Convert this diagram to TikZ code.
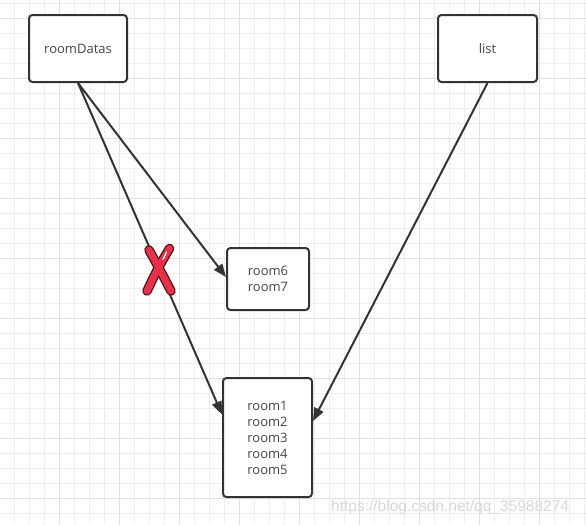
\documentclass[tikz,border=0pt]{standalone}
\usepackage{fontspec}
\setmainfont{Open Sans}
\newfontfamily\wmfont{Liberation Sans}
\usetikzlibrary{arrows.meta}
\definecolor{minorg}{HTML}{EEEEEE}
\definecolor{majorg}{HTML}{E0E0E0}
\definecolor{boxc}{HTML}{333333}
\definecolor{txtc}{HTML}{444444}
\definecolor{xred}{HTML}{E8304A}
\definecolor{xdark}{HTML}{4A0A12}
\definecolor{wm}{HTML}{D8D8D8}
\begin{document}
\begin{tikzpicture}[x=1pt,y=-1pt,
  box/.style={draw=boxc,line width=2pt,rounded corners=3.5pt,fill=white,align=center,
    font=\fontsize{13}{16}\selectfont,text=txtc,inner sep=0pt},
  conn/.style={draw=boxc,line width=2pt,-{Triangle[length=13pt,width=10pt]}},
  minorline/.style={draw=minorg,line width=1pt},
  majorline/.style={draw=majorg,line width=1pt},
  xout/.style={draw=xdark,line width=9.5pt,line cap=round},
  xin/.style={draw=xred,line width=7pt,line cap=round}
]
\useasboundingbox (0,0) rectangle (586,525);
\fill[white] (0,0) rectangle (586,525);
% grid
\foreach \k in {0,...,40} {
  \draw[minorline] ({15*\k-0.7},0) -- ({15*\k-0.7},525);
}
\foreach \k in {0,...,35} {
  \draw[minorline] (0,{15*\k+3.3}) -- (586,{15*\k+3.3});
}
\foreach \k in {0,...,10} {
  \draw[majorline] ({60*\k-0.7},0) -- ({60*\k-0.7},525);
}
\foreach \k in {0,...,9} {
  \draw[majorline] (0,{60*\k+18.3}) -- (586,{60*\k+18.3});
}
% nodes
\node[box,minimum width=98pt,minimum height=67pt] (rd) at (78,48.5) {roomDatas};
\node[box,minimum width=99pt,minimum height=67pt] (ls) at (487.5,48.5) {list};
\node[box,minimum width=82pt,minimum height=62pt] (r67) at (268,279) {room6\\room7};
\node[box,minimum width=89pt,minimum height=119pt] (r15) at (267.5,437.5) {room1\\room2\\room3\\room4\\room5};
% connectors
\draw[conn] (rd.south) -- ([yshift=2pt]r67.west);
\draw[conn] (rd.south) -- ([yshift=23pt]r15.west);
\draw[conn] (ls.south) -- ([yshift=16.5pt]r15.east);
% red X
\draw[xout] (149,250) .. controls (159,268) .. (171,291);
\draw[xout] (169.5,248.5) .. controls (158,268) .. (147,291);
\draw[xin] (149,250) .. controls (159,268) .. (171,291);
\draw[xin] (169.5,248.5) .. controls (158,268) .. (147,291);
\draw[white,line width=1.3pt,line cap=round] (166.5,252) -- (163,259.5);
% watermark
\node[anchor=west,inner sep=0pt,text=wm,font=\wmfont\fontsize{15.5}{18}\selectfont] (wmk) at (331,507.5) {https://blog.csdn.net/qq\_35988274};
\end{tikzpicture}
\end{document}
